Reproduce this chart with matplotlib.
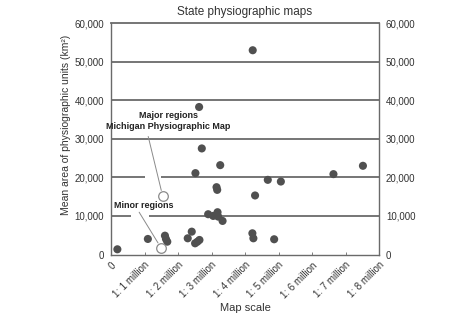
import matplotlib.pyplot as plt
from matplotlib.ticker import FuncFormatter

# data: map scale (millions) vs mean area of units (km2)
scale_m = [0.19, 1.10, 1.61, 1.64, 1.68, 2.29, 2.41, 2.51, 2.58, 2.64,
           2.52, 2.63, 2.71, 3.15, 3.17, 3.26, 2.90, 3.05, 3.18, 3.20,
           3.33, 4.23, 4.30, 4.22, 4.25, 4.87, 4.68, 5.07, 6.64, 7.52]
mean_area = [1350, 4030, 4880, 4030, 3320, 4200, 5920, 2900, 3320, 3770,
             21090, 38230, 27490, 17450, 16750, 23160, 10440, 10000, 10960, 9820,
             8700, 52940, 15300, 5500, 4200, 3950, 19350, 18910, 20830, 22990]

# Michigan map: major and minor regions
mich_scale = [1.54, 1.49]
mich_area = [15200, 1770]

xticks = [0, 1, 2, 3, 4, 5, 6, 7, 8]
xlabels = ["0"] + ["1: %d million" % i for i in range(1, 9)]
yticks = [0, 10000, 20000, 30000, 40000, 50000, 60000]

plt.rcParams["font.family"] = ["Liberation Sans", "DejaVu Sans"]

fig = plt.figure(figsize=(4.74, 3.24), dpi=100)
ax = fig.add_axes([0.2342, 0.2145, 0.5654, 0.7145])

gc = "#6a6a6a"
# gridlines with small breaks where leader lines cross
ax.hlines([30000, 40000, 50000], 0, 8, color=gc, lw=1.3, zorder=1)
ax.hlines(20000, 0, 1.01, color=gc, lw=1.3, zorder=1)
ax.hlines(20000, 1.48, 8, color=gc, lw=1.3, zorder=1)
ax.hlines(10000, 0, 0.60, color=gc, lw=1.3, zorder=1)
ax.hlines(10000, 1.14, 8, color=gc, lw=1.3, zorder=1)

ax.scatter(scale_m, mean_area, s=34, color="#505050", edgecolors="none", zorder=3)
ax.scatter(mich_scale, mich_area, s=48, facecolor="white", edgecolors="#8a8a8a",
           linewidths=0.9, zorder=3)

# labels and leader lines
tk = dict(fontsize=6.5, fontweight="bold", color="#222222", ha="center", va="center")
ax.text(1.71, 36050, "Major regions", **tk)
ax.text(1.72, 33200, "Michigan Physiographic Map", **tk)
ax.text(0.98, 12600, "Minor regions", **tk)
lp = dict(arrowstyle="-", color="#8a8a8a", lw=0.7, shrinkA=0, shrinkB=4)
ax.annotate("", xy=(mich_scale[0], mich_area[0]), xytext=(1.11, 30600), arrowprops=lp)
ax.annotate("", xy=(mich_scale[1], mich_area[1]), xytext=(0.84, 10960), arrowprops=lp)

ax.set_xlim(0, 8)
ax.set_ylim(0, 60000)
ax.set_xticks(xticks)
ax.set_xticklabels(xlabels, rotation=45, ha="right", rotation_mode="anchor",
                   fontsize=7, color="#333333")
ax.set_yticks(yticks)
ax.yaxis.set_major_formatter(FuncFormatter(lambda v, p: "{:,.0f}".format(v)))
ax.tick_params(axis="y", length=0, pad=5, labelsize=7, labelcolor="#333333",
               labelright=True)
ax.tick_params(axis="x", direction="in", length=2, width=0.6, color=gc, pad=4)

for side in ["left", "right", "bottom"]:
    ax.spines[side].set_color(gc)
    ax.spines[side].set_linewidth(1.0)
ax.spines["top"].set_color(gc)
ax.spines["top"].set_linewidth(1.3)

ax.set_title("State physiographic maps", fontsize=8.5, color="#333333", pad=6)
ax.set_ylabel("Mean area of physiographic units (km²)", fontsize=7.5, color="#333333")
ax.yaxis.set_label_coords(-0.15, 0.56)
ax.set_xlabel("Map scale", fontsize=8, color="#333333", labelpad=2)

fig.savefig("out.png", dpi=100)
